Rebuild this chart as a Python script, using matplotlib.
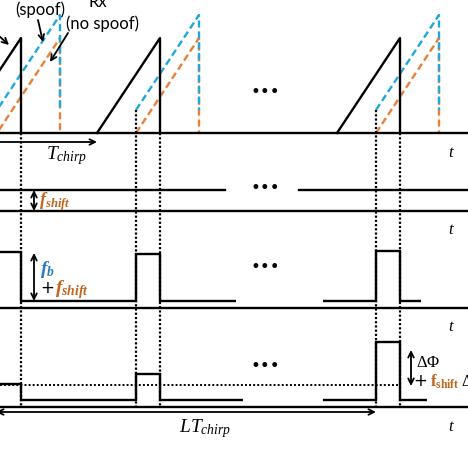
import matplotlib.pyplot as plt

plt.rcParams["mathtext.fontset"] = "custom"
plt.rcParams["mathtext.rm"] = "Liberation Serif"
plt.rcParams["mathtext.it"] = "Liberation Serif:italic"
plt.rcParams["mathtext.bf"] = "Liberation Serif:bold:italic"
plt.rcParams["mathtext.sf"] = "Liberation Serif:bold"

# Chirp timing (diagram units, time runs left to right)
chirp_start = [-42, 97, 337]   # Tx ramp starts
chirp_len = 63
chirp_rise = 95
rx_delay = 39
spoof_shift = 23

# Row baselines
ramp_base = 133
shift_lines = [190, 211]
beat_base = 308
phase_base = 407

# Beat frequency row (edges / levels)
beat_edges_a = [0, 21, 136, 160, 236]
beat_levels_a = [252, 301, 254, 301]
beat_edges_b = [323, 376, 400, 421]
beat_levels_b = [301, 251, 301]

# Phase row
phase_edges_a = [0, 21, 136, 160, 243]
phase_levels_a = [384, 400, 374, 400]
phase_edges_b = [323, 376, 400, 427]
phase_levels_b = [400, 342, 400]
phase_ref = 385

CYAN = "#1fa8dc"
ORANGE = "#e8803a"
LBL_ORANGE = "#c0651c"
LBL_BLUE = "#2e7ab8"

fig = plt.figure(figsize=(4.68, 4.68), dpi=100)
ax = fig.add_axes([0, 0, 1, 1])
ax.set_xlim(0, 468)
ax.set_ylim(468, 0)
ax.axis("off")

lw = 1.7

# --- top row: chirps ---
for s in chirp_start:
    e = s + chirp_len
    r = s + rx_delay
    re = r + chirp_len
    ax.plot([r, re, re], [ramp_base, ramp_base - chirp_rise, ramp_base],
            color=ORANGE, lw=lw, ls=(0, (3, 1.6)))
    ax.plot([r, re, re],
            [ramp_base - spoof_shift, ramp_base - spoof_shift - chirp_rise,
             ramp_base - spoof_shift],
            color=CYAN, lw=lw, ls=(0, (3, 1.6)))
    ax.plot([s, e, e], [ramp_base, ramp_base - chirp_rise, ramp_base],
            color="k", lw=lw)

# dotted guides
guide_x = [21, 136, 160, 376, 400]
guide_top = [ramp_base, ramp_base - spoof_shift, ramp_base,
             ramp_base - spoof_shift, ramp_base]
for gx, gt in zip(guide_x, guide_top):
    ax.plot([gx, gx], [gt, phase_base], color="k", lw=1.6, ls=(0, (1, 0.9)))

# baselines
for yb in [ramp_base, shift_lines[1], beat_base, phase_base]:
    ax.plot([0, 468], [yb, yb], color="k", lw=lw)
ax.plot([0, 225], [shift_lines[0]] * 2, color="k", lw=lw)
ax.plot([299, 468], [shift_lines[0]] * 2, color="k", lw=lw)

# step signals
ax.stairs(beat_levels_a, beat_edges_a, baseline=None, color="k", lw=lw)
ax.stairs(beat_levels_b, beat_edges_b, baseline=None, color="k", lw=lw)
ax.stairs(phase_levels_a, phase_edges_a, baseline=None, color="k", lw=lw)
ax.stairs(phase_levels_b, phase_edges_b, baseline=None, color="k", lw=lw)
ax.plot([0, 400], [phase_ref, phase_ref], color="k", lw=1.4, ls=(0, (1, 1.1)))

# ellipses
for ye in [92, 188, 267, 366]:
    ax.text(265, ye, "\u2022\u2022\u2022", ha="center", va="center",
            fontsize=12, color="k")

# t labels
for yt in [152, 229, 326, 426]:
    ax.text(451, yt, "$t$", ha="center", va="center", fontsize=12)

# arrows
arr = dict(arrowstyle="->", color="k", lw=1.3, shrinkA=0, shrinkB=0)
arr2 = dict(arrowstyle="<->", color="k", lw=1.3, shrinkA=0, shrinkB=0)
ax.annotate("", xy=(97, 142), xytext=(-5, 142), arrowprops=arr)
ax.annotate("", xy=(376, 412), xytext=(-4, 412), arrowprops=arr2)
ax.annotate("", xy=(34, 211), xytext=(34, 190), arrowprops=arr2)
ax.annotate("", xy=(34, 301), xytext=(34, 253), arrowprops=arr2)
ax.annotate("", xy=(411, 386), xytext=(411, 350), arrowprops=arr2)
ax.annotate("", xy=(43, 42), xytext=(38, 20), arrowprops=arr)
ax.annotate("", xy=(50, 62), xytext=(68, 33), arrowprops=arr)
ax.annotate("", xy=(9, 45), xytext=(-2, 35), arrowprops=arr)

ax.text(67, 156, "$T_{chirp}$", ha="center", va="center", fontsize=14)
ax.text(205, 429, "$LT_{chirp}$", ha="center", va="center", fontsize=14)

ax.text(39, 202, r"$\mathbf{f}_{\mathbf{shift}}$", ha="left", va="center",
        fontsize=13, color=LBL_ORANGE)
ax.text(40, 270, r"$\mathbf{f}_{\mathbf{b}}$", ha="left", va="center",
        fontsize=14, color=LBL_BLUE)
ax.text(40, 288, "+", ha="left", va="center", fontsize=12, color="k")
ax.text(55, 290, r"$\mathbf{f}_{\mathbf{shift}}$", ha="left", va="center",
        fontsize=14, color=LBL_ORANGE)

ax.text(416, 362, r"$\Delta\Phi$", ha="left", va="center", fontsize=12)
ax.text(413, 381, "+", ha="left", va="center", fontsize=12, color="k")
ax.text(430, 382, r"$\mathsf{f}_{\mathsf{shift}}$", ha="left", va="center",
        fontsize=12, color=LBL_ORANGE)
ax.text(461, 381, r"$\Delta$", ha="left", va="center", fontsize=12)

ax.text(40, 10, "(spoof)", ha="center", va="center", fontsize=12,
        family="Lato")
ax.text(98, 2, "Rx", ha="center", va="center", fontsize=12, family="Lato")
ax.text(102, 24, "(no spoof)", ha="center", va="center", fontsize=12,
        family="Lato")

fig.savefig("out.png", dpi=100)
